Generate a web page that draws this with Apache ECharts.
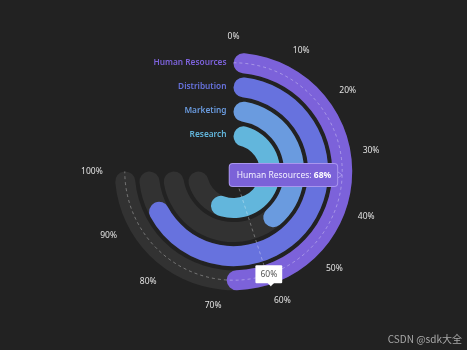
<!DOCTYPE html>
<html>
<head>
<meta charset="utf-8">
<script src="https://cdn.jsdelivr.net/npm/echarts@6/dist/echarts.min.js"></script>
<style>
  html, body { margin: 0; padding: 0; background: #222; }
  #chart { width: 467px; height: 350px; }
</style>
</head>
<body>
<div id="chart"></div>
<script>
// Departments, innermost ring first
const categories = ['Research', 'Marketing', 'Distribution', 'Human Resources'];
// Completion per department, in percent
const values = [80, 55, 92, 68];
const ringColors = ['#62b6dc', '#6a9bdf', '#6772de', '#7c62da'];
// Angle axis scale (percent)
const angleMin = 0;
const angleMax = 100;
const angleStep = 10;
// Full-length track behind each ring
const trackValues = categories.map(() => angleMax);
// Highlighted state: pointer angle and the department shown in the tip
const pointerValue = 60;
const focusIndex = 3;
const tipAngle = 34;

const FONT = '"Noto Sans", "Liberation Sans", sans-serif';
const chart = echarts.init(document.getElementById('chart'));

const polarBox = { center: ['50%', '49%'], radius: ['14%', '69%'] };
const hiddenParts = { axisLine: { show: false }, axisTick: { show: false }, splitLine: { show: false } };

function angleAxisFor(index, showLabels) {
  return Object.assign({
    polarIndex: index,
    type: 'value',
    min: angleMin,
    max: angleMax,
    interval: angleStep,
    startAngle: 90,
    endAngle: -180,
    axisLabel: {
      show: showLabels,
      formatter: '{value}%',
      color: '#e0e0e0',
      fontSize: 8.5,
      fontFamily: FONT,
      margin: 10
    }
  }, hiddenParts);
}

function radiusAxisFor(index, showLabels) {
  return Object.assign({
    polarIndex: index,
    type: 'category',
    data: categories,
    z: 10,
    axisLabel: {
      show: showLabels,
      interval: 0,
      color: (v, i) => ringColors[i],
      fontSize: 8.3,
      fontWeight: 600,
      fontFamily: FONT,
      margin: 7
    }
  }, hiddenParts);
}

chart.setOption({
  backgroundColor: '#222',
  animation: false,
  // polar 0 carries the tracks, polar 1 the values on top
  polar: [Object.assign({}, polarBox), Object.assign({}, polarBox)],
  angleAxis: [angleAxisFor(0, true), angleAxisFor(1, false)],
  radiusAxis: [radiusAxisFor(0, false), radiusAxisFor(1, true)],
  series: [
    {
      type: 'bar',
      coordinateSystem: 'polar',
      polarIndex: 0,
      barWidth: 20,
      silent: true,
      z: 1,
      itemStyle: { color: '#323232', borderRadius: 10 },
      data: trackValues
    },
    {
      type: 'bar',
      coordinateSystem: 'polar',
      polarIndex: 1,
      barWidth: 20,
      z: 2,
      itemStyle: { borderRadius: 10 },
      data: values.map((v, i) => ({ value: v, itemStyle: { color: ringColors[i] } }))
    }
  ]
});

// Polar geometry read back from the chart's own coordinate system
const px = (r, a) => chart.convertToPixel({ polarIndex: 1 }, [r, a]);
const top3 = px(focusIndex, angleMin);
const bottom3 = px(focusIndex, angleMax * 2 / 3);
const cx = (top3[0] + bottom3[0]) / 2;
const cy = (top3[1] + bottom3[1]) / 2;
const dist = (p) => Math.hypot(p[0] - cx, p[1] - cy);
const rFocus = dist(top3);
const band = rFocus - dist(px(focusIndex - 1, angleMin));
const rOuter = rFocus + band / 2;
const toRad = (v) => (90 - (v - angleMin) / (angleMax - angleMin) * 270) * Math.PI / 180;
const along = (r, v) => [cx + r * Math.cos(toRad(v)), cy - r * Math.sin(toRad(v))];

const tip = px(focusIndex, tipAngle);
const rimPt = along(rOuter, pointerValue);
const innerPt = along(0, pointerValue);
const tipFill = '#7b62d8';
const tipEdge = '#a996ee';
const dashed = { stroke: 'rgba(255,255,255,0.33)', lineWidth: 1, lineDash: [3, 3], fill: null };

chart.setOption({
  graphic: [
    // pointer ring along the focused department
    {
      type: 'arc',
      z: 50,
      silent: true,
      shape: { cx: cx, cy: cy, r: rFocus, startAngle: -Math.PI / 2, endAngle: Math.PI, clockwise: true },
      style: dashed
    },
    // pointer spoke at the pointer value
    {
      type: 'line',
      z: 50,
      silent: true,
      shape: { x1: innerPt[0], y1: innerPt[1], x2: rimPt[0], y2: rimPt[1] },
      style: dashed
    },
    {
      type: 'polygon',
      z: 100,
      shape: { points: [[tip[0] - 7, tip[1] - 5], [tip[0], tip[1]], [tip[0] - 7, tip[1] + 5]] },
      style: { fill: tipFill, stroke: tipEdge, lineWidth: 1 }
    },
    {
      type: 'text',
      z: 101,
      x: tip[0] - 5,
      y: tip[1],
      style: {
        text: '{n|' + categories[focusIndex] + ': }{b|' + values[focusIndex] + '%}',
        align: 'right',
        verticalAlign: 'middle',
        backgroundColor: tipFill,
        borderColor: tipEdge,
        borderWidth: 1,
        borderRadius: 3,
        padding: [7, 6, 6, 7],
        rich: {
          n: { fontSize: 8.5, fontFamily: FONT, fill: '#f2f0ff' },
          b: { fontSize: 8.5, fontFamily: FONT, fontWeight: 'bold', fill: '#ffffff' }
        }
      }
    },
    {
      type: 'polygon',
      z: 100,
      shape: { points: [[rimPt[0] - 4, rimPt[1] - 4], [rimPt[0], rimPt[1]], [rimPt[0] + 4, rimPt[1] - 4]] },
      style: { fill: '#ffffff' }
    },
    {
      type: 'text',
      z: 101,
      x: rimPt[0] - 2,
      y: rimPt[1] - 3,
      style: {
        text: pointerValue + '%',
        align: 'center',
        verticalAlign: 'bottom',
        backgroundColor: '#ffffff',
        borderRadius: 1,
        padding: [5, 5, 4, 5],
        fontSize: 8.5,
        fontFamily: FONT,
        fill: '#555'
      }
    },
    {
      type: 'text',
      right: 5,
      bottom: 6,
      style: {
        text: 'CSDN @sdk大全',
        fontSize: 10,
        fontFamily: '"Noto Sans CJK SC", "Noto Sans", sans-serif',
        fill: '#a8a8a8'
      }
    }
  ]
});
</script>
</body>
</html>
